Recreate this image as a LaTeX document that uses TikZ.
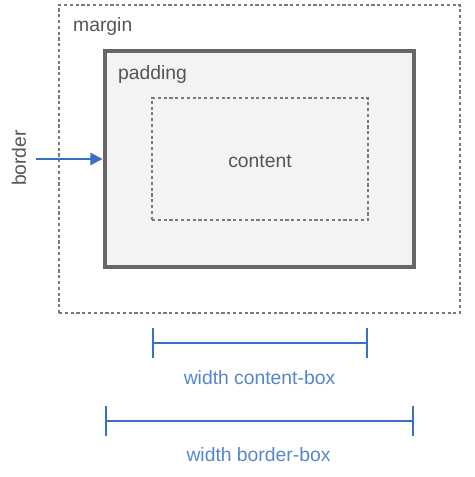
\documentclass[tikz,border=0pt]{standalone}
\usepackage{fontspec}
\setmainfont{Liberation Sans}
\usetikzlibrary{arrows.meta}
\definecolor{boxgray}{HTML}{666666}
\definecolor{txtgray}{HTML}{555555}
\definecolor{dashgray}{HTML}{7A7A7A}
\definecolor{fillgray}{HTML}{F3F3F3}
\definecolor{dimblue}{HTML}{3A6FC8}

\tikzset{
  dotbox/.style = {draw = dashgray, line width = 1pt, dash pattern = on 1.8pt off 1.5pt, inner sep = 0pt},
  label/.style = {text = txtgray, font = \fontsize{11}{13}\selectfont},
  dimlabel/.style = {text = dimblue!85, font = \fontsize{11}{13}\selectfont},
  dimline/.style = {draw = dimblue, line width = 1.2pt, {Bar[width=17pt]}-{Bar[width=17pt]}}
}

\begin{document}
\begin{tikzpicture}[x = 0.02cm, y = -0.02cm]
\useasboundingbox (0,0) rectangle (474,477);
\node[dotbox, minimum width = 8.02cm, minimum height = 6.16cm] (margin) at (259.5,159) {};
\node[draw = boxgray, fill = fillgray, line width = 2.8pt, inner sep = 0pt, minimum width = 6.18cm, minimum height = 4.32cm] (border) at (259.5,159) {};
\node[dotbox, minimum width = 4.32cm, minimum height = 2.44cm] (content) at (260,159) {};
\node[label, anchor = west] (marginlabel) at (67,27) {margin};
\node[label, anchor = west] (paddinglabel) at (112,75) {padding};
\node[label] (contentlabel) at (260,161) {content};
\node[label, rotate = 90] (borderlabel) at (19,158) {border};
\coordinate (arrowstart) at (36,159);
\draw[dimblue, line width = 1.2pt, -{Triangle[length=7pt, width=7pt]}] (arrowstart) -- (border.west);
% widths
\coordinate (cbl) at (152,343);
\coordinate (cbr) at (368,343);
\coordinate (bbl) at (105,421);
\coordinate (bbr) at (414,421);
\draw[dimline] (cbl) -- (cbr);
\draw[dimline] (bbl) -- (bbr);
\node[dimlabel] (cblabel) at (259.5,378) {width content-box};
\node[dimlabel] (bblabel) at (258.5,455) {width border-box};
\end{tikzpicture}
\end{document}
